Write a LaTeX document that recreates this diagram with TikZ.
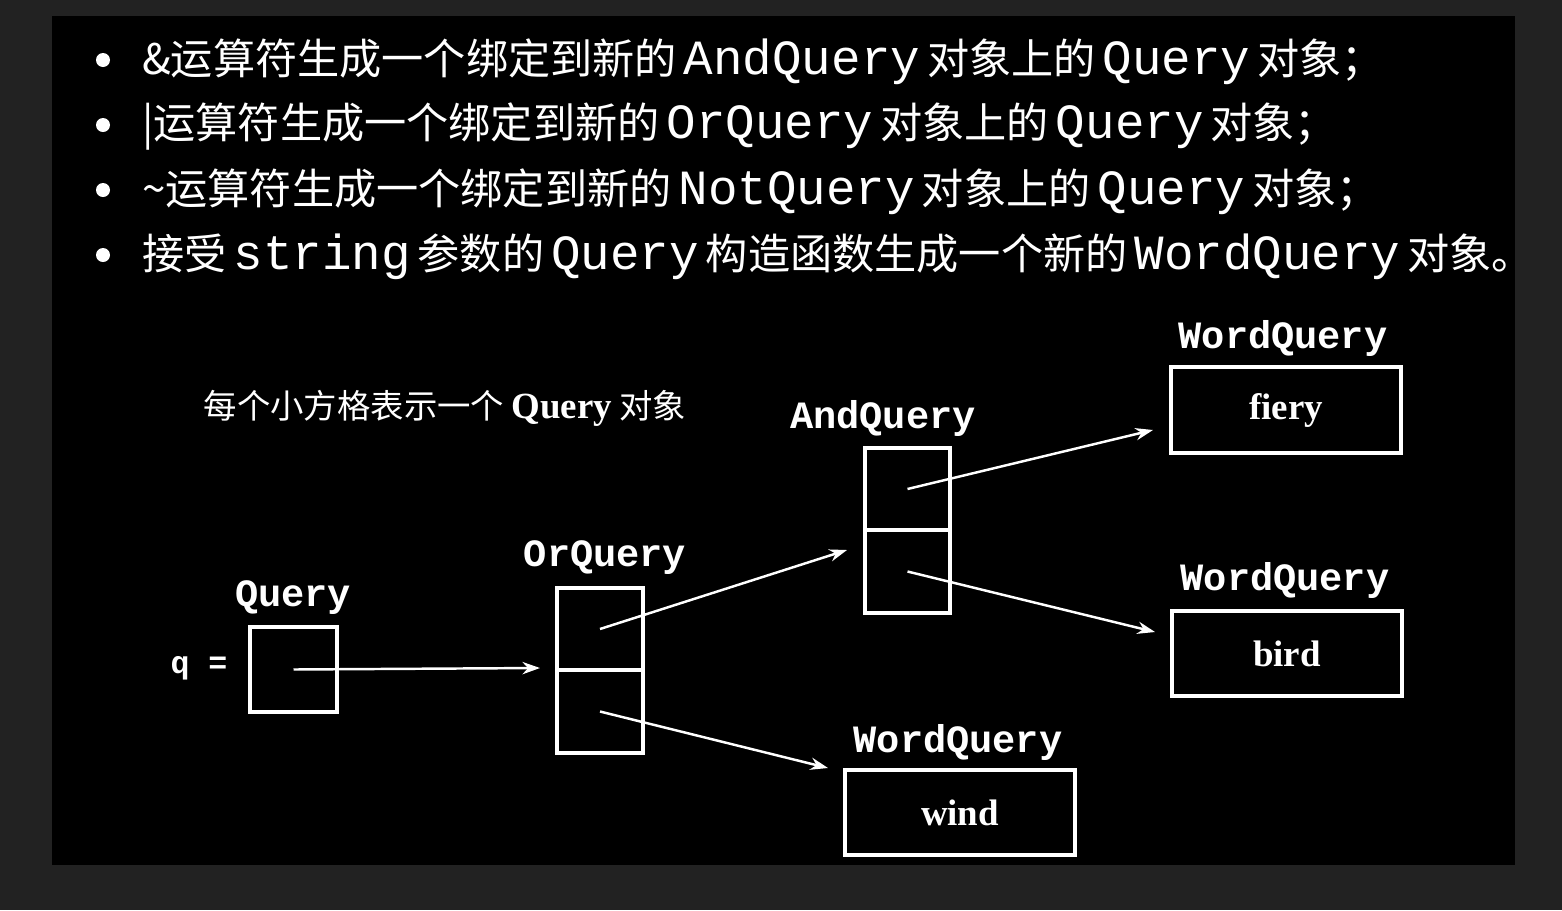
\documentclass[tikz,border=0pt]{standalone}
\usepackage{fontspec}
\setmainfont{Liberation Serif}
\setmonofont{Liberation Mono}
\newfontfamily\cjk{Noto Sans CJK SC}
\usetikzlibrary{arrows.meta}
\newcommand{\cd}[1]{\hspace{4pt}{\ttfamily\fontsize{28}{28}\selectfont #1}\hspace{4pt}}
\begin{document}
\begin{tikzpicture}[x=0.02cm,y=-0.02cm,
  bx/.style={draw=white,line width=2pt,minimum width=#1*0.02cm,inner sep=0pt},
  lbl/.style={text=white,font=\ttfamily\bfseries\fontsize{22}{24}\selectfont},
  body/.style={text=white,font=\cjk\fontsize{24}{26}\selectfont,anchor=west},
  arr/.style={draw=white,line width=1.4pt,-{Stealth[length=10pt,width=7pt]}}]
\fill[fill={rgb,255:red,34;green,34;blue,34}] (0,0) rectangle (1562,910);
\fill[black] (52,16) rectangle (1515,865);
\useasboundingbox (0,0) rectangle (1562,910);
\foreach \y in {60,125,190,255} \fill[white] (103,\y) circle (7);
\node[body] (l1) at (136,62) {\&运算符生成一个绑定到新的\cd{AndQuery}对象上的\cd{Query}对象；};
\node[body] (l2) at (136,127) {|运算符生成一个绑定到新的\cd{OrQuery}对象上的\cd{Query}对象；};
\node[body] (l3) at (136,192) {\textasciitilde 运算符生成一个绑定到新的\cd{NotQuery}对象上的\cd{Query}对象；};
\node[body] (l4) at (136,257) {接受\cd{string}参数的\cd{Query}构造函数生成一个新的\cd{WordQuery}对象。};
\node[text=white,font=\cjk\fontsize{19}{20}\selectfont] (cap) at (445,408) {每个小方格表示一个 {\rmfamily\bfseries\fontsize{21}{21}\selectfont Query} 对象};
% boxes
\node[bx=87,minimum height=85*0.02cm] (q) at (293.5,669.5) {};
\node[lbl] (ql) at (293,598) {Query};
\node[lbl,font=\ttfamily\bfseries\fontsize{18}{20}\selectfont] (qe) at (199,668) {q =};
\node[bx=86,minimum height=82*0.02cm] (o1) at (600,629) {};
\node[bx=86,minimum height=83*0.02cm] (o2) at (600,711.5) {};
\node[lbl] (ol) at (605,558) {OrQuery};
\node[bx=85,minimum height=82*0.02cm] (a1) at (907.5,489) {};
\node[bx=85,minimum height=83*0.02cm] (a2) at (907.5,571.5) {};
\node[lbl] (al) at (883,418) {AndQuery};
\node[bx=230,minimum height=86*0.02cm,text=white,font=\bfseries\fontsize{21}{22}\selectfont] (f) at (1286,410) {fiery};
\node[lbl] (fl) at (1283,338) {WordQuery};
\node[bx=230,minimum height=85*0.02cm,text=white,font=\bfseries\fontsize{21}{22}\selectfont] (b) at (1287,653.5) {bird};
\node[lbl] (bl) at (1285,580) {WordQuery};
\node[bx=230,minimum height=85*0.02cm,text=white,font=\bfseries\fontsize{21}{22}\selectfont] (w) at (960,812.5) {wind};
\node[lbl] (wl) at (958,742) {WordQuery};
% arrows
\coordinate (e1) at (540,668); \draw[arr] (q.center) -- (e1);
\coordinate (e2) at (847,550); \draw[arr] (o1.center) -- (e2);
\coordinate (e3) at (828,768); \draw[arr] (o2.center) -- (e3);
\coordinate (e4) at (1153,430); \draw[arr] (a1.center) -- (e4);
\coordinate (e5) at (1155,632); \draw[arr] (a2.center) -- (e5);
\end{tikzpicture}
\end{document}
